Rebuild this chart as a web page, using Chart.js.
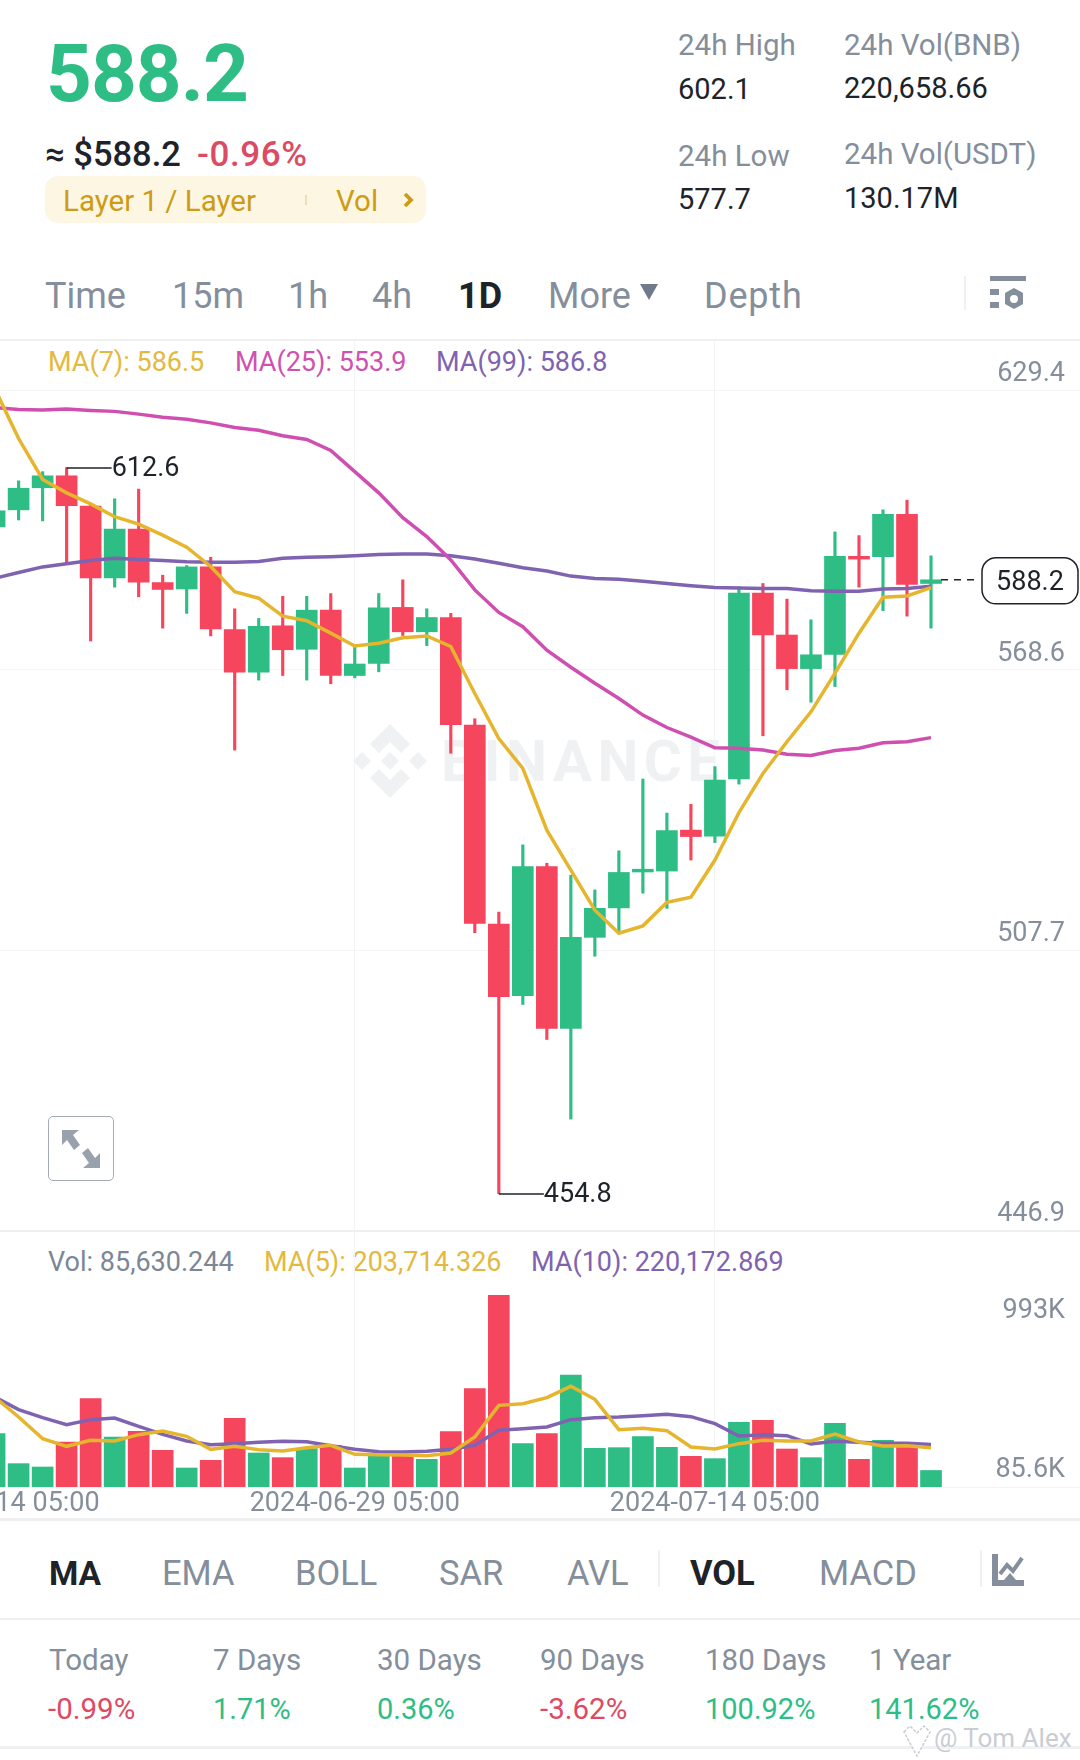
<!DOCTYPE html>
<html>
<head>
<meta charset="utf-8">
<script src="https://cdn.jsdelivr.net/npm/chart.js@4/dist/chart.umd.js"></script>
<style>
html,body{margin:0;padding:0;background:#fff}
#page{position:relative;width:1080px;height:1760px;overflow:hidden;font-family:Roboto,sans-serif;color:#858e9b;font-size:29.5px}
.t{position:absolute;white-space:nowrap;transform:translateY(-50%)}
.line{position:absolute;left:0;width:1080px;height:2px;background:#eef0f2}
.dark{color:#1e2329}
.red{color:#dc4a63}
.green{color:#2ebd85}
.yel{color:#e3b93e}
.pink{color:#cf52b0}
.pur{color:#7f63b0}
.tab{font-size:36px}
.tab2{font-size:34.5px}
.leg{font-size:27px}
canvas{position:absolute;left:0}
svg{position:absolute}
</style>
</head>
<body>
<div id="page">
	<div class="t green" style="left:46px;top:74px;font-size:80px;font-weight:700;letter-spacing:-1px">588.2</div>
	<div class="t dark" style="left:45px;top:154px;font-size:34.5px;font-weight:500">≈ $588.2</div>
	<div class="t red" style="left:197px;top:154px;font-size:35px;font-weight:500;letter-spacing:.6px">-0.96%</div>
	<div style="position:absolute;left:45px;top:176px;width:381px;height:47px;background:#fdf6e3;border-radius:13px"></div>
	<div class="t" style="left:63px;top:201px;color:#cc9c16">Layer 1 / Layer</div>
	<div style="position:absolute;left:305px;top:195px;width:2px;height:10px;background:#eadfb8"></div>
	<div class="t" style="left:336px;top:201px;color:#cc9c16">Vol</div>
	<svg style="left:402px;top:191px" width="14" height="18" viewBox="0 0 14 18"><path d="M3 3l6 6-6 6" fill="none" stroke="#cc9c16" stroke-width="3.8"/></svg>

	<div class="t" style="left:678px;top:45px">24h High</div>
	<div class="t" style="left:844px;top:45px">24h Vol(BNB)</div>
	<div class="t dark" style="left:678px;top:89px;font-size:29px">602.1</div>
	<div class="t dark" style="left:844px;top:88px;font-size:29px">220,658.66</div>
	<div class="t" style="left:678px;top:156px">24h Low</div>
	<div class="t" style="left:844px;top:154px">24h Vol(USDT)</div>
	<div class="t dark" style="left:678px;top:199px;font-size:29px">577.7</div>
	<div class="t dark" style="left:844px;top:198px;font-size:29px">130.17M</div>

	<div class="t tab" style="left:45px;top:296px">Time</div>
	<div class="t tab" style="left:172px;top:296px">15m</div>
	<div class="t tab" style="left:288px;top:296px">1h</div>
	<div class="t tab" style="left:372px;top:296px">4h</div>
	<div class="t tab dark" style="left:458px;top:296px;font-weight:700">1D</div>
	<div class="t tab" style="left:548px;top:296px">More</div>
	<svg style="left:640px;top:284px" width="18" height="16" viewBox="0 0 18 16"><path d="M0 0h18L9 16z" fill="#6f7a8a"/></svg>
	<div class="t tab" style="left:704px;top:296px;letter-spacing:.8px">Depth</div>
	<div style="position:absolute;left:964px;top:276px;width:2px;height:34px;background:#eef0f2"></div>
	<svg style="left:990px;top:275px" width="36" height="38" viewBox="0 0 36 38"><g fill="#848e9c"><rect width="36" height="5" y="1"/><rect width="9" height="6" y="14"/><rect width="9" height="6" y="27"/><path d="M24 13l9 5v11l-9 5-9-5V18z"/></g><circle cx="24" cy="24" r="4" fill="#fff"/></svg>

	<div class="line" style="top:339px"></div>
	<div class="t leg yel" style="left:48px;top:362px">MA(7): 586.5</div>
	<div class="t leg pink" style="left:235px;top:362px">MA(25): 553.9</div>
	<div class="t leg pur" style="left:436px;top:362px">MA(99): 586.8</div>

	<svg style="left:353px;top:724px" width="74" height="74" viewBox="0 0 74 74"><g fill="#f0f1f2"><path d="M37 0l20 20-9 9-11-11-11 11-9-9z"/><path d="M37 74l20-20-9-9-11 11-11-11-9 9z"/><path d="M9 28l9 9-9 9-9-9z"/><path d="M65 28l9 9-9 9-9-9z"/><path d="M37 28l9 9-9 9-9-9z"/></g></svg>
	<div class="t" style="left:441px;top:761px;font-size:58px;font-weight:700;color:#f0f1f2;letter-spacing:5.5px">BINANCE</div>

	<canvas id="priceChart" width="1080" height="892" style="top:340px"></canvas>

	<div style="position:absolute;left:48px;top:1116px;width:64px;height:63px;border:1.5px solid #a4abb6;border-radius:5px;background:#fff"></div>
	<svg style="left:60px;top:1128px" width="42" height="42" viewBox="0 0 42 42"><g fill="#99a1ac"><path d="M2 2h17l-6 5 7 10-6 5-7-10-5 5z"/><path d="M40 40H23l6-5-7-10 6-5 7 10 5-5z"/></g></svg>

	<div class="line" style="top:1230px"></div>
	<div class="t leg" style="left:48px;top:1262px;color:#7c8796">Vol: 85,630.244</div>
	<div class="t leg yel" style="left:264px;top:1262px">MA(5): 203,714.326</div>
	<div class="t leg pur" style="left:531px;top:1262px">MA(10): 220,172.869</div>

	<canvas id="volChart" width="1080" height="287" style="top:1231px"></canvas>

	<div class="line" style="top:1518px;height:3px"></div>
	<div class="t tab2 dark" style="left:49px;top:1573px;font-size:33.5px;font-weight:700">MA</div>
	<div class="t tab2" style="left:162px;top:1573px">EMA</div>
	<div class="t tab2" style="left:295px;top:1573px">BOLL</div>
	<div class="t tab2" style="left:439px;top:1573px">SAR</div>
	<div class="t tab2" style="left:567px;top:1573px">AVL</div>
	<div style="position:absolute;left:658px;top:1550px;width:2px;height:37px;background:#eef0f2"></div>
	<div class="t tab2 dark" style="left:690px;top:1573px;font-weight:700">VOL</div>
	<div class="t tab2" style="left:819px;top:1573px">MACD</div>
	<div style="position:absolute;left:980px;top:1550px;width:2px;height:37px;background:#eef0f2"></div>
	<svg style="left:992px;top:1554px" width="32" height="32" viewBox="0 0 32 32"><path fill="#848e9c" d="M0 0h6v26h26v6H0z"/><path d="M8 20l7-9 6 6 9-13" fill="none" stroke="#848e9c" stroke-width="4"/><path fill="#848e9c" d="M12 26l6-7 6 7z"/></svg>
	<div class="line" style="top:1618px"></div>

	<div class="t" style="left:49px;top:1660px">Today</div>
	<div class="t" style="left:213px;top:1660px">7 Days</div>
	<div class="t" style="left:377px;top:1660px">30 Days</div>
	<div class="t" style="left:540px;top:1660px">90 Days</div>
	<div class="t" style="left:705px;top:1660px">180 Days</div>
	<div class="t" style="left:869px;top:1660px">1 Year</div>
	<div class="t red" style="left:48px;top:1709px">-0.99%</div>
	<div class="t green" style="left:213px;top:1709px;font-size:29px">1.71%</div>
	<div class="t green" style="left:377px;top:1709px;font-size:29px">0.36%</div>
	<div class="t red" style="left:540px;top:1709px">-3.62%</div>
	<div class="t green" style="left:705px;top:1709px;font-size:29px">100.92%</div>
	<div class="t green" style="left:869px;top:1709px;font-size:29px">141.62%</div>

	<div class="line" style="top:1746px;height:3px"></div>
	<svg style="left:902px;top:1724px" width="30" height="34" viewBox="0 0 30 34"><path d="M2 8l6-6 7 7 7-7 6 6-13 24z" fill="#fff" stroke="#c9cdd3" stroke-width="1.5" stroke-dasharray="3 1.5"/></svg>
	<div class="t" style="left:934px;top:1738px;font-size:26px;color:#c9cdd3;text-shadow:0 0 2px #fff">@ Tom Alex</div>
</div>
<script>
"use strict"
let dates=['2024-06-14','2024-06-15','2024-06-16','2024-06-17','2024-06-18','2024-06-19','2024-06-20','2024-06-21','2024-06-22','2024-06-23',
	'2024-06-24','2024-06-25','2024-06-26','2024-06-27','2024-06-28','2024-06-29','2024-06-30','2024-07-01','2024-07-02','2024-07-03',
	'2024-07-04','2024-07-05','2024-07-06','2024-07-07','2024-07-08','2024-07-09','2024-07-10','2024-07-11','2024-07-12','2024-07-13',
	'2024-07-14','2024-07-15','2024-07-16','2024-07-17','2024-07-18','2024-07-19','2024-07-20','2024-07-21','2024-07-22','2024-07-23']
let opens=[599.7,603.4,608.2,610.8,604.2,588.6,599.2,587.6,586.2,591.0,577.4,568.1,578.2,573.1,581.6,567.4,570.0,582.2,576.9,580.0,
	556.6,513.4,497.8,525.9,490.7,510.5,516.9,524.7,524.9,533.8,532.5,544.9,585.3,576.2,568.9,572.0,593.3,593.2,602.4,587.4]
let highs=[604.1,609.7,611.7,612.6,604.8,605.8,607.9,589.2,591.3,593.1,581.9,579.8,584.6,584.6,585.2,573.7,585.2,588.2,581.9,580.9,
	558.0,516.0,530.6,526.6,524.0,520.8,529.3,544.9,537.5,539.4,547.6,586.7,587.4,584.0,579.5,598.6,597.8,603.4,605.5,593.4]
let lows=[599.0,601.2,601.0,591.8,574.9,586.6,584.5,577.7,580.9,576.0,551.2,566.4,567.4,566.4,565.6,566.9,568.2,576.1,573.9,550.5,
	511.5,454.8,495.9,488.3,471.0,506.4,511.4,520.1,516.8,527.3,531.1,543.8,554.3,564.3,561.6,565.0,586.6,581.5,580.3,577.7]
let closes=[603.2,608.1,610.8,604.3,588.6,599.2,587.7,586.1,591.0,577.5,568.1,578.1,573.0,581.6,567.4,569.9,582.1,576.9,580.0,556.7,
	513.5,497.6,525.9,490.7,510.5,516.8,524.6,525.3,533.7,532.4,544.7,585.3,576.2,568.9,571.9,593.3,592.7,602.4,587.2,588.2]
let ma7=[629.8,618.9,610.0,607.1,604.7,601.9,600.3,597.9,595.3,591.1,585.6,584.2,580.3,579.3,576.6,573.8,574.4,575.6,576.0,573.7,
	563.5,553.7,547.2,533.8,525.1,516.4,511.4,513.0,518.1,519.2,527.3,537.6,546.1,553.0,559.5,567.9,576.6,584.4,584.7,586.5]
let ma25=[625.6,625.2,625.1,625.3,625.0,624.8,624.2,623.5,623.1,622.3,621.3,620.7,619.5,618.7,616.3,611.7,607.1,601.7,597.6,592.5,
	586.0,581.1,578.0,572.9,569.2,565.7,562.4,558.8,556.1,554.0,551.7,551.6,551.2,550.3,550.0,551.1,551.6,552.8,553.0,553.9]
let ma99=[588.5,589.8,591.0,591.7,592.4,592.9,592.6,592.4,592.1,592.0,592.0,592.2,592.9,593.1,593.2,593.4,593.7,593.8,593.8,593.4,
	592.7,591.8,590.8,590.1,589.0,588.5,588.3,587.9,587.4,586.9,586.5,586.4,586.3,586.3,585.8,585.7,585.7,586.2,586.3,586.8]
let volumes=[276.3,120.9,103.6,233.1,457.6,259.0,288.4,189.9,98.4,138.1,355.7,176.1,152.0,198.6,215.8,98.4,164.0,164.0,143.3,286.6,
	509.4,993.0,224.5,276.3,580.2,200.3,203.8,260.7,205.5,158.9,146.8,335.0,345.3,196.8,152.0,329.8,143.3,241.7,215.8,85.63]
let volMa5=[466.2,362.6,250.4,210.7,241.7,238.3,271.1,290.1,262.5,195.1,210.7,193.4,186.5,203.8,215.8,169.2,167.5,165.8,162.3,176.1,
	259.0,423.0,431.7,462.8,521.5,454.1,297.0,303.9,291.8,207.2,196.8,224.5,241.7,238.3,238.3,274.5,233.1,212.4,214.1,203.7]
let volMa10=[466.2,400.6,359.2,322.9,348.8,357.4,314.3,272.8,238.3,219.3,224.5,231.4,236.6,234.8,214.1,195.1,183.0,181.3,184.8,195.1,
	215.8,293.5,302.2,310.8,348.8,359.2,362.6,369.5,376.4,364.3,328.1,264.2,271.1,265.9,222.7,236.6,231.4,226.2,226.2,220.17]
let priceTicks=[629.4,568.6,507.7,446.9]
let volTicks=[993,85.63]
let dateTicks=[0,15,30]
let lastPrice=588.2

const GREEN='#2ebd85', RED='#f6465d', YELLOW='#e6b52e', PINK='#cf4fb0', PURPLE='#7f63b0'
const GRID='#f3f4f6', TICK='#858e9b', DARK='#1e2329'

Chart.defaults.font.family='Roboto, sans-serif'
Chart.defaults.animation=false

let idx=dates.map((d,i)=>i)
let colors=idx.map(i=>closes[i]>=opens[i]?GREEN:RED)
let xy=vals=>vals.map((v,i)=>({x:i,y:v}))
let noPad=s=>{s.paddingTop=0;s.paddingBottom=0;s.paddingLeft=0;s.paddingRight=0}
let yFit=s=>{noPad(s);s.width=0}
let maLine=(vals,color)=>({type:'line',data:xy(vals),borderColor:color,borderWidth:3.5,pointRadius:0,tension:0,order:0})
let xScale=(showLabels,height)=>({
	type:'linear',min:0.225,max:45.205,offset:false,
	afterBuildTicks:s=>{s.ticks=dateTicks.map(v=>({value:v}))},
	afterFit:s=>{noPad(s);if(height)s.height=height},
	border:{display:showLabels,color:GRID},
	grid:{color:GRID,drawTicks:false,offset:false},
	ticks:{display:showLabels,autoSkip:false,maxRotation:0,padding:1,color:TICK,font:{size:27},
		callback:v=>dates[v]+' 05:00'}
})

// high, low and last price marks
let priceMarks={
	id:'priceMarks',
	afterDatasetsDraw:chart=>{
		let {ctx,scales:{x,y}}=chart
		let mark=(i,v,text)=>{
			let px=x.getPixelForValue(i), py=Math.round(y.getPixelForValue(v))
			ctx.strokeStyle=DARK
			ctx.lineWidth=1.5
			ctx.beginPath()
			ctx.moveTo(px,py)
			ctx.lineTo(px+45,py)
			ctx.stroke()
			ctx.fillStyle=DARK
			ctx.font='27px Roboto'
			ctx.textAlign='left'
			ctx.textBaseline='middle'
			ctx.fillText(text,px+45,py+1)
		}
		ctx.save()
		mark(highs.indexOf(612.6),612.6,'612.6')
		mark(lows.indexOf(454.8),454.8,'454.8')
		let py=y.getPixelForValue(lastPrice)
		ctx.setLineDash([7,6])
		ctx.strokeStyle=DARK
		ctx.lineWidth=1.5
		ctx.beginPath()
		ctx.moveTo(x.getPixelForValue(39)+10,py)
		ctx.lineTo(974,py)
		ctx.stroke()
		ctx.setLineDash([])
		ctx.beginPath()
		ctx.roundRect(982,py-22,96,46,14)
		ctx.fillStyle='#fff'
		ctx.fill()
		ctx.stroke()
		ctx.fillStyle=DARK
		ctx.textAlign='center'
		ctx.fillText(lastPrice.toFixed(1),1030,py+3)
		ctx.restore()
	}
}

new Chart(document.getElementById('priceChart'),{
	type:'bar',
	data:{datasets:[
		maLine(ma7,YELLOW),
		maLine(ma25,PINK),
		maLine(ma99,PURPLE),
		{data:idx.map(i=>({x:i,y:[opens[i],closes[i]]})),backgroundColor:colors,barThickness:21,grouped:false,order:1},
		{data:idx.map(i=>({x:i,y:[lows[i],highs[i]]})),backgroundColor:colors,barThickness:2.5,grouped:false,order:2}
	]},
	options:{
		responsive:false,
		layout:{padding:{bottom:2}},
		plugins:{legend:{display:false},tooltip:{enabled:false}},
		scales:{
			x:xScale(false),
			y:{
				position:'right',min:446.9,max:640.31,
				afterBuildTicks:s=>{s.ticks=priceTicks.map(v=>({value:v}))},
				afterFit:yFit,
				border:{display:false},
				grid:{color:GRID,drawTicks:false},
				ticks:{mirror:true,padding:-15,color:TICK,font:{size:27,lineHeight:'32px'},
					callback:v=>[v.toFixed(1),'']}
			}
		}
	},
	plugins:[priceMarks]
})

new Chart(document.getElementById('volChart'),{
	type:'bar',
	data:{datasets:[
		maLine(volMa5,YELLOW),
		maLine(volMa10,PURPLE),
		{data:xy(volumes),backgroundColor:colors,barThickness:21,grouped:false,order:1}
	]},
	options:{
		responsive:false,
		plugins:{legend:{display:false},tooltip:{enabled:false}},
		scales:{
			x:xScale(true,31),
			y:{
				position:'right',min:0,max:1326,
				afterBuildTicks:s=>{s.ticks=volTicks.map(v=>({value:v}))},
				afterFit:yFit,
				border:{display:false},
				grid:{display:false},
				ticks:{mirror:true,padding:-15,color:TICK,font:{size:27,lineHeight:'32px'},
					callback:v=>v===993?['',Math.round(v)+'K']:v.toFixed(1)+'K'}
			}
		}
	}
})
</script>
</body>
</html>
